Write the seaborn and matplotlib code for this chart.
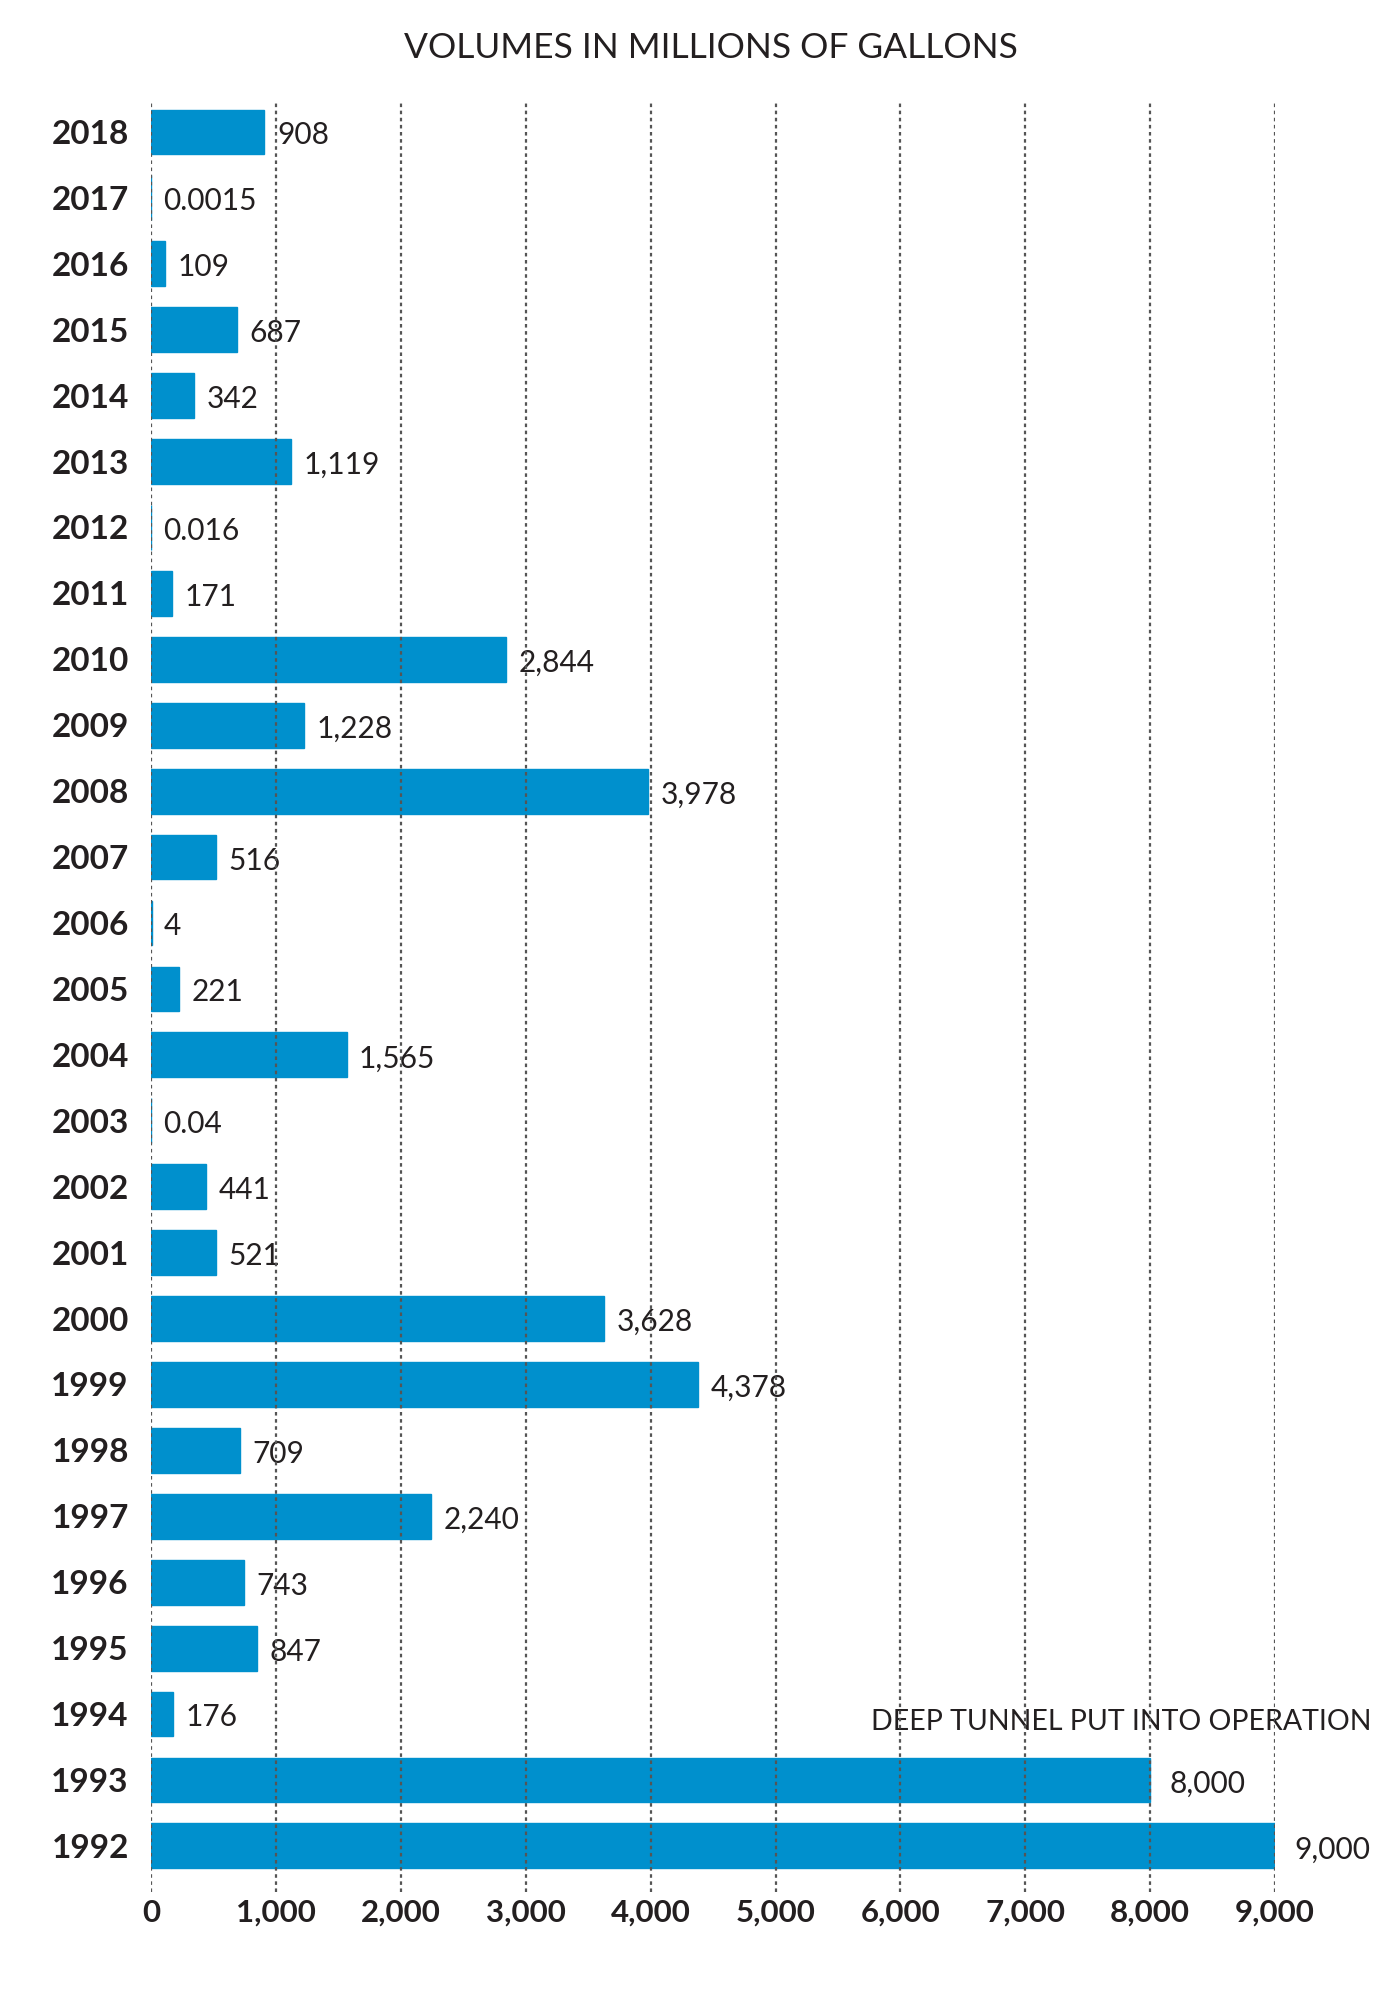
import matplotlib
matplotlib.use("Agg")
import matplotlib.pyplot as plt
import seaborn as sns
import pandas as pd

# Data
years = ["2018", "2017", "2016", "2015", "2014", "2013", "2012", "2011", "2010",
         "2009", "2008", "2007", "2006", "2005", "2004", "2003", "2002", "2001",
         "2000", "1999", "1998", "1997", "1996", "1995", "1994", "1993", "1992"]
volumes = [908, 0.0015, 109, 687, 342, 1119, 0.016, 171, 2844,
           1228, 3978, 516, 4, 221, 1565, 0.04, 441, 521,
           3628, 4378, 709, 2240, 743, 847, 176, 8000, 9000]
x_ticks = [0, 1000, 2000, 3000, 4000, 5000, 6000, 7000, 8000, 9000]
title = "VOLUMES IN MILLIONS OF GALLONS"
note = "DEEP TUNNEL PUT INTO OPERATION"

df = pd.DataFrame({"year": years, "volume": volumes})

sns.set_theme(style="white")
plt.rcParams["font.family"] = ["Lato", "DejaVu Sans"]

text_col = "#231F20"
bar_col = "#0090CD"

fig = plt.figure(figsize=(14, 19.96), dpi=100)
ax = fig.add_axes([0.1079, 0.0521, 0.8029, 0.8978])

sns.barplot(data=df, x="volume", y="year", order=years, orient="h",
            color=bar_col, saturation=1, width=0.68,
            edgecolor=bar_col, linewidth=1, ax=ax)

# dotted vertical grid on top of bars
for t in x_ticks:
    ax.axvline(t, color="#555555", linestyle=(0, (1.6, 1.6)), linewidth=1.6, zorder=5)

ax.set_xlim(0, 9000)
ax.set_ylim(26.7, -0.485)
ax.set_xticks(x_ticks)
ax.set_xticklabels([f"{t:,}" for t in x_ticks], fontsize=22.5, fontweight="bold", color=text_col)
ax.set_yticklabels(years, fontsize=24, fontweight="bold", color=text_col)
ax.tick_params(axis="x", length=0, pad=5)
ax.tick_params(axis="y", length=0, pad=16)
ax.set_xlabel("")
ax.set_ylabel("")
for s in ax.spines.values():
    s.set_visible(False)

# value labels
for i, v in enumerate(volumes):
    lab = f"{v:,}" if float(v).is_integer() else str(v)
    gap = 14 if v >= 8000 else 9
    ax.annotate(lab, xy=(v, i), xytext=(gap, -2.5), textcoords="offset points",
                va="center", ha="left", fontsize=21.5, color=text_col,
                annotation_clip=False)

ax.annotate(note, xy=(9770, years.index("1994")), xytext=(0, -6),
            textcoords="offset points", ha="right", va="center",
            fontsize=20.5, color=text_col, annotation_clip=False)

fig.text(0.508, 1 - 48 / 1996, title, ha="center", va="center",
         fontsize=25.5, color=text_col)

fig.savefig("out.png", dpi=100)
